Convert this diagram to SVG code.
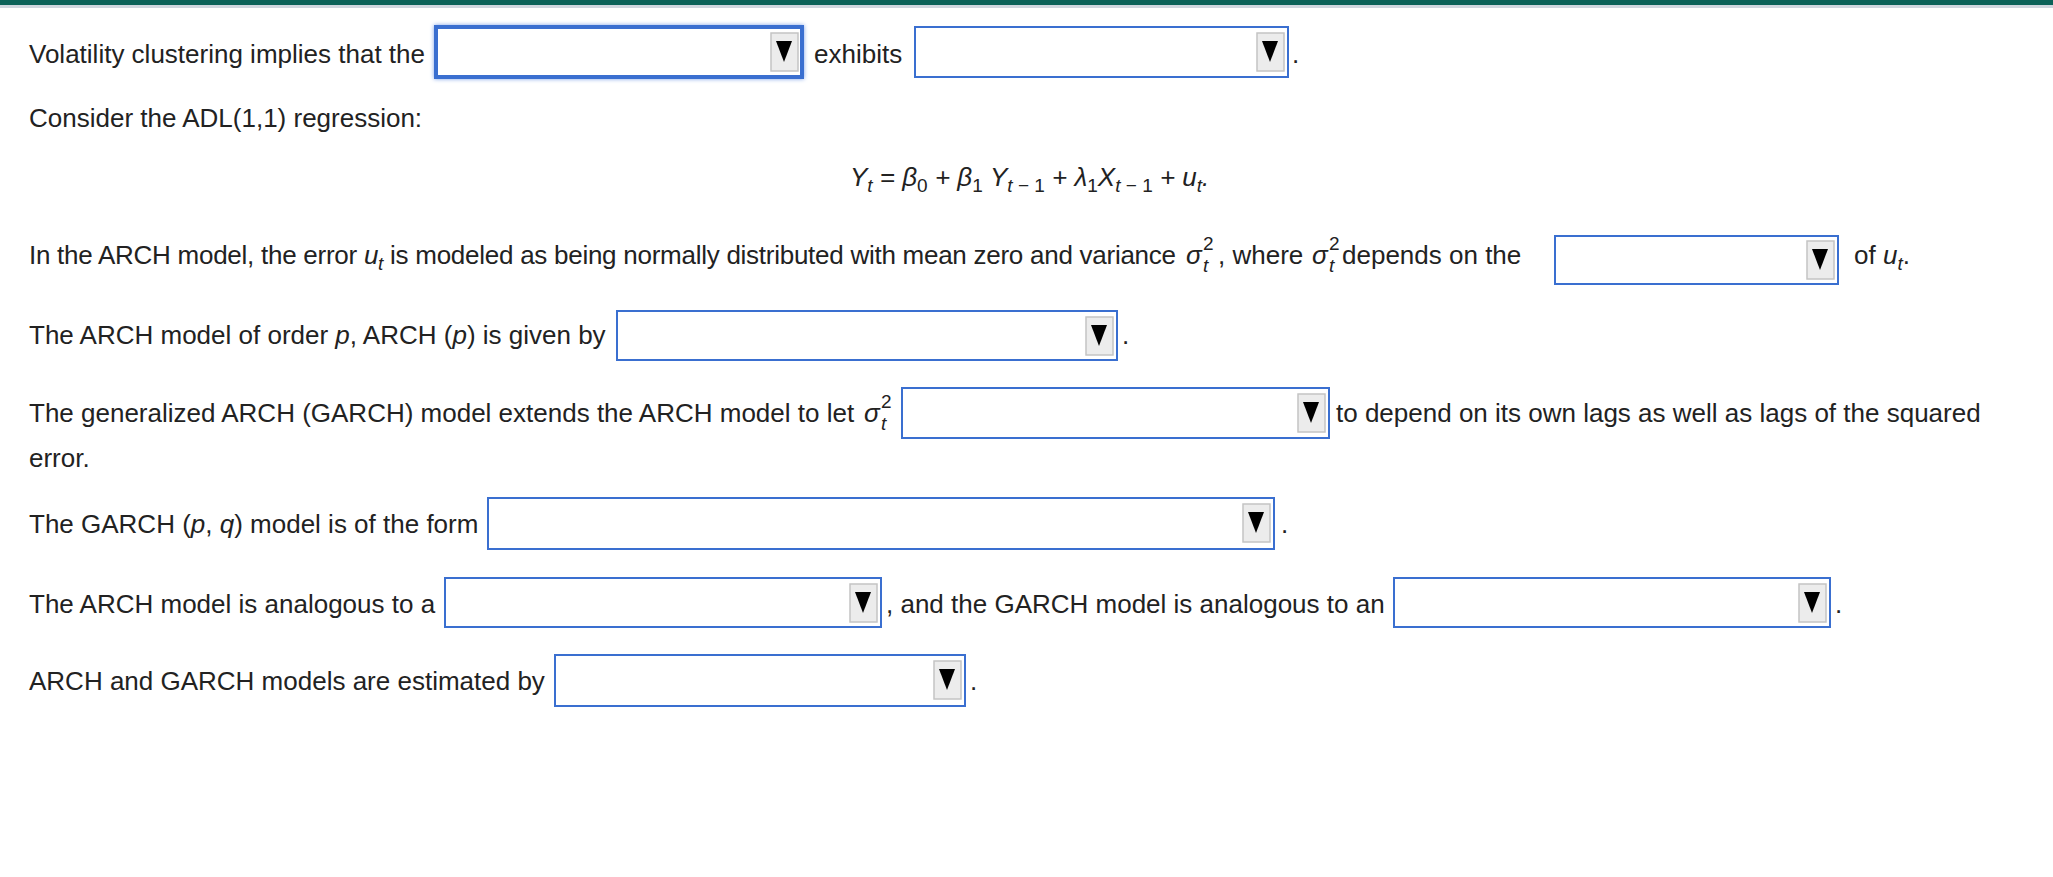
<svg xmlns="http://www.w3.org/2000/svg" width="2053" height="877" viewBox="0 0 2053 877">
<style>
text{font-family:"Liberation Sans",Arial,sans-serif;font-size:26px;fill:#222}
.i{font-style:italic}
.n{font-style:normal}
.s{font-size:19px}
.box{fill:#fff;stroke:#3a6fd0;stroke-width:2}
.btn{fill:#ececec;stroke:#c4c4c4;stroke-width:1.5}
.tri{fill:#000}
</style>
<defs>
<g id="dd">
<rect class="btn" x="-31" y="6" width="27" height="38"/>
<path class="tri" d="M-26 14 L-10 14 L-18 35 Z"/>
</g>
</defs>
<rect x="0" y="0" width="2053" height="5" fill="#0b6258"/>
<rect x="0" y="5" width="2053" height="3" fill="#cfd6de"/>

<text x="29" y="63">Volatility clustering implies that the</text>
<g id="dd1"><rect x="436" y="27" width="366" height="50" fill="#fff" stroke="#3a6fd0" stroke-width="4" style="filter:drop-shadow(0 0 2px #7aa0e8)"/><use href="#dd" x="802" y="27"/></g>
<text x="814" y="63">exhibits</text>
<g id="dd2"><rect class="box" x="915" y="27" width="373" height="50"/><use href="#dd" x="1288" y="27"/></g>
<text x="1292" y="63">.</text>

<text x="29" y="127">Consider the ADL(1,1) regression:</text>
<text x="850" y="186" class="i">Y<tspan class="s" dy="6">t</tspan><tspan dy="-6"> = β</tspan><tspan class="s n" dy="6">0</tspan><tspan dy="-6"> + β</tspan><tspan class="s n" dy="6">1</tspan><tspan dy="-6"> Y</tspan><tspan class="s" dy="6">t</tspan><tspan class="s n"> − 1</tspan><tspan dy="-6"> + λ</tspan><tspan class="s n" dy="6">1</tspan><tspan dy="-6">X</tspan><tspan class="s" dy="6">t</tspan><tspan class="s n"> − 1</tspan><tspan dy="-6"> + u</tspan><tspan class="s" dy="6">t</tspan><tspan dy="-6">.</tspan></text>

<text x="29" y="264" textLength="1147" lengthAdjust="spacing">In the ARCH model, the error <tspan class="i">u</tspan><tspan class="s i" dy="6">t</tspan><tspan dy="-6"> is modeled as being normally distributed with mean zero and variance</tspan></text>
<text x="1186" y="264" class="i">σ</text><text x="1203" y="250" class="s">2</text><text x="1203" y="272" class="s i">t</text>
<text x="1218" y="264">, where</text>
<text x="1312" y="264" class="i">σ</text><text x="1329" y="250" class="s">2</text><text x="1329" y="272" class="s i">t</text>
<text x="1342" y="264">depends on the</text>
<g id="dd3"><rect class="box" x="1555" y="236" width="283" height="48"/><use href="#dd" x="1838" y="235"/></g>
<text x="1854" y="264">of <tspan class="i">u</tspan><tspan class="s i" dy="6">t</tspan><tspan dy="-6">.</tspan></text>

<text x="29" y="344">The ARCH model of order <tspan class="i">p</tspan>, ARCH (<tspan class="i">p</tspan>) is given by</text>
<g id="dd4"><rect class="box" x="617" y="311" width="500" height="49"/><use href="#dd" x="1117" y="311"/></g>
<text x="1122" y="344">.</text>

<text x="29" y="422">The generalized ARCH (GARCH) model extends the ARCH model to let</text>
<text x="864" y="422" class="i">σ</text><text x="881" y="408" class="s">2</text><text x="881" y="430" class="s i">t</text>
<g id="dd5"><rect class="box" x="902" y="388" width="427" height="50"/><use href="#dd" x="1329" y="388"/></g>
<text x="1336" y="422">to depend on its own lags as well as lags of the squared</text>
<text x="29" y="467">error.</text>

<text x="29" y="533">The GARCH (<tspan class="i">p</tspan>, <tspan class="i">q</tspan>) model is of the form</text>
<g id="dd6"><rect class="box" x="488" y="498" width="786" height="51"/><use href="#dd" x="1274" y="498"/></g>
<text x="1281" y="533">.</text>

<text x="29" y="613">The ARCH model is analogous to a</text>
<g id="dd7"><rect class="box" x="445" y="578" width="436" height="49"/><use href="#dd" x="881" y="578"/></g>
<text x="886" y="613">, and the GARCH model is analogous to an</text>
<g id="dd8"><rect class="box" x="1394" y="578" width="436" height="49"/><use href="#dd" x="1830" y="578"/></g>
<text x="1835" y="613">.</text>

<text x="29" y="690">ARCH and GARCH models are estimated by</text>
<g id="dd9"><rect class="box" x="555" y="655" width="410" height="51"/><use href="#dd" x="965" y="655"/></g>
<text x="970" y="690">.</text>
</svg>
